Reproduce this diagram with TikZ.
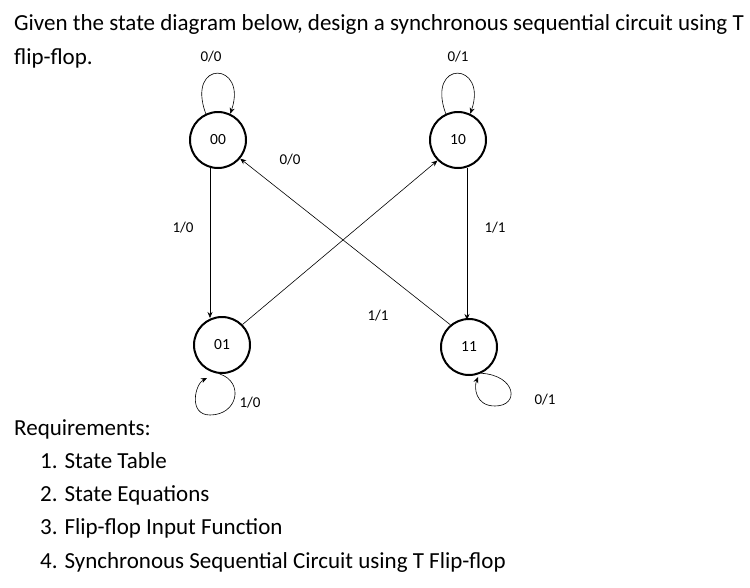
\documentclass[tikz,border=0pt]{standalone}
\usepackage{fontspec}
\setmainfont{Carlito}
\usetikzlibrary{arrows.meta}
\begin{document}
\begin{tikzpicture}[x=1pt,y=-1pt,
 st/.style={circle,draw,line width=2pt,minimum size=56pt,inner sep=0pt,font=\fontsize{15.5}{15.5}\selectfont},
 lb/.style={font=\fontsize{15}{15}\selectfont},
 tx/.style={anchor=base west,inner sep=0pt,font=\fontsize{23}{23}\selectfont},
 ar/.style={-{Stealth[length=6pt,width=5pt]},line width=0.6pt}]
\useasboundingbox (0,0) rectangle (750,587);
\node[tx] (t1) at (14,30) {Given the state diagram below, design a synchronous sequential circuit using T};
\node[tx] (t2) at (14,64) {flip-flop.};
\node[tx] (r0) at (14,435) {Requirements:};
\node[tx] (r1) at (40,468) {1. State Table};
\node[tx] (r2) at (40,501) {2. State Equations};
\node[tx] (r3) at (40,534) {3. Flip-flop Input Function};
\node[tx] (r4) at (40,568) {4. Synchronous Sequential Circuit using T Flip-flop};
\node[st] (a) at (218,140) {00};
\node[st] (b) at (458,140) {10};
\node[st] (c) at (222,345) {01};
\node[st] (d) at (469,347) {11};
\draw[ar] (a.south -| 210,0) ++(0,-1) -- (210,318) coordinate (ce);
\draw[ar] (b.south -| 467,0) ++(0,-1) -- (467,320) coordinate (de);
\draw[ar] (c.45) -- (b.225);
\draw[ar] (d.130) -- (a.-40);
\draw[ar] (a.115) .. controls +(-20,-55) and +(18,-52) .. (a.65);
\draw[ar] (b.115) .. controls +(-20,-55) and +(18,-52) .. (b.65);
\draw[ar] (c.-95) .. controls +(25,8) and +(28,0) .. (210,415) .. controls +(-22,0) and +(-12,6) .. (207,378);
\draw[ar] (d.-65) .. controls +(35,2) and +(25,0) .. (495,406) .. controls +(-20,0) and +(-4,10) .. (478,377);
\node[lb] (l1) at (211,57) {0/0};
\node[lb] (l2) at (458,57) {0/1};
\node[lb] (l3) at (290,160) {0/0};
\node[lb] (l4) at (183,228) {1/0};
\node[lb] (l5) at (495,228) {1/1};
\node[lb] (l6) at (378,316) {1/1};
\node[lb] (l7) at (250,403) {1/0};
\node[lb] (l8) at (545,400) {0/1};
\end{tikzpicture}
\end{document}
